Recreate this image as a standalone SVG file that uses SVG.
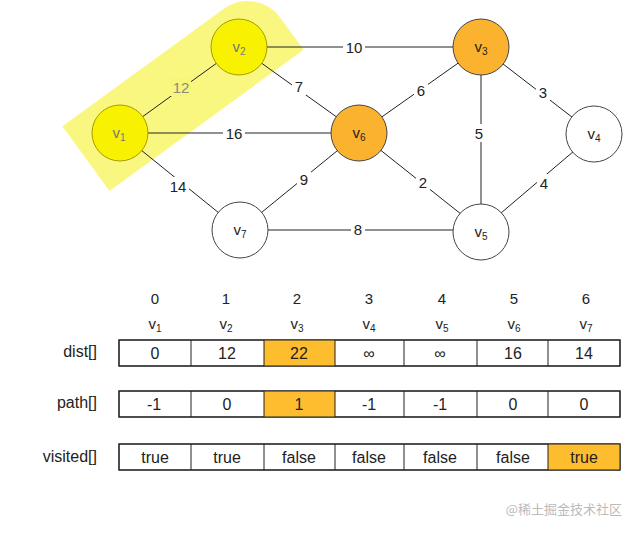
<svg xmlns="http://www.w3.org/2000/svg" width="639" height="533" viewBox="0 0 639 533">
<style>
text{font-family:"Liberation Sans",Arial,sans-serif;fill:#222;text-anchor:middle}
.e{stroke:#222;stroke-width:1;fill:none}
.w{font-size:15px}
.lbl{font-size:15px}
.c{fill:#fff;stroke:#222;stroke-width:1.2}
.h{fill:#fdbd2f}
.t{font-size:16px}
</style>
<rect x="0" y="0" width="639" height="533" fill="#fff"/>
<g id="highlight"><path d="M0 0H200a40 40 0 0 1 40 40v40H0Z" fill="#f6f34a" opacity="0.7" transform="rotate(-36 183 88) translate(63 48)"/></g>
<g id="connectors">
<line class="e" x1="120" y1="133" x2="239" y2="47"/>
<line class="e" x1="239" y1="47" x2="481" y2="47"/>
<line class="e" x1="239" y1="47" x2="359" y2="133"/>
<line class="e" x1="120" y1="133" x2="359" y2="133"/>
<line class="e" x1="120" y1="133" x2="240" y2="230"/>
<line class="e" x1="240" y1="230" x2="359" y2="133"/>
<line class="e" x1="240" y1="230" x2="481" y2="230"/>
<line class="e" x1="359" y1="133" x2="481" y2="47"/>
<line class="e" x1="359" y1="133" x2="481" y2="230"/>
<line class="e" x1="481" y1="47" x2="481" y2="230"/>
<line class="e" x1="481" y1="47" x2="594" y2="134"/>
<line class="e" x1="594" y1="134" x2="481" y2="230"/>
<g class="w">
<rect x="171" y="78" width="20" height="18" fill="#f8f578"/><text x="181" y="93" style="fill:#888">12</text>
<rect x="343" y="38" width="22" height="18" fill="#fff"/><text x="354" y="53">10</text>
<rect x="292" y="77" width="14" height="18" fill="#fff"/><text x="299" y="92">7</text>
<rect x="223" y="124" width="22" height="18" fill="#fff"/><text x="234" y="139">16</text>
<rect x="167" y="177" width="22" height="18" fill="#fff"/><text x="178" y="192">14</text>
<rect x="297" y="170" width="14" height="18" fill="#fff"/><text x="304" y="185">9</text>
<rect x="351" y="220" width="14" height="18" fill="#fff"/><text x="358" y="235">8</text>
<rect x="414" y="81" width="14" height="18" fill="#fff"/><text x="421" y="96">6</text>
<rect x="416" y="173" width="14" height="18" fill="#fff"/><text x="423" y="188">2</text>
<rect x="474" y="124" width="14" height="18" fill="#fff"/><text x="479" y="139">5</text>
<rect x="536" y="83" width="14" height="18" fill="#fff"/><text x="543" y="98">3</text>
<rect x="537" y="174" width="14" height="18" fill="#fff"/><text x="544" y="189">4</text>
</g>
</g>
<g id="v1"><circle cx="120" cy="133" r="28" fill="#f8f200" stroke="#a59c00"/><text class="lbl" x="119" y="138" style="fill:#777">v<tspan font-size="10" dy="3">1</tspan></text></g>
<g id="v2"><circle cx="239" cy="47" r="28" fill="#f8f200" stroke="#a59c00"/><text class="lbl" x="239" y="52" style="fill:#777">v<tspan font-size="10" dy="3">2</tspan></text></g>
<g id="v3"><circle cx="481" cy="47" r="28" fill="#fbb22e" stroke="#444"/><text class="lbl" x="481" y="52">v<tspan font-size="10" dy="3">3</tspan></text></g>
<g id="v4"><circle cx="594" cy="134" r="28" fill="#fff" stroke="#444"/><text class="lbl" x="594" y="139">v<tspan font-size="10" dy="3">4</tspan></text></g>
<g id="v5"><circle cx="481" cy="232" r="28" fill="#fff" stroke="#444"/><text class="lbl" x="481" y="237">v<tspan font-size="10" dy="3">5</tspan></text></g>
<g id="v6"><circle cx="359" cy="133" r="28" fill="#fbb22e" stroke="#444"/><text class="lbl" x="359" y="138">v<tspan font-size="10" dy="3">6</tspan></text></g>
<g id="v7"><circle cx="240" cy="230" r="28" fill="#fff" stroke="#444"/><text class="lbl" x="240" y="235">v<tspan font-size="10" dy="3">7</tspan></text></g>
<g id="table" class="t">
<g font-size="15">
<text x="155" y="304">0</text><text x="226" y="304">1</text><text x="297" y="304">2</text><text x="369" y="304">3</text><text x="442" y="304">4</text><text x="514" y="304">5</text><text x="586" y="304">6</text>
<text x="155" y="329">v<tspan font-size="10" dy="3">1</tspan></text><text x="226" y="329">v<tspan font-size="10" dy="3">2</tspan></text><text x="297" y="329">v<tspan font-size="10" dy="3">3</tspan></text><text x="369" y="329">v<tspan font-size="10" dy="3">4</tspan></text><text x="442" y="329">v<tspan font-size="10" dy="3">5</tspan></text><text x="514" y="329">v<tspan font-size="10" dy="3">6</tspan></text><text x="586" y="329">v<tspan font-size="10" dy="3">7</tspan></text>
</g>
<g font-size="16" style="text-anchor:end">
<text x="97" y="357" style="text-anchor:end">dist[]</text>
<text x="97" y="408" style="text-anchor:end">path[]</text>
<text x="97" y="462" style="text-anchor:end">visited[]</text>
</g>
<g>
<rect class="c" x="119" y="340" width="501" height="26"/>
<rect class="h" x="264" y="340" width="71" height="26"/>
<rect class="c" x="119" y="391" width="501" height="26"/>
<rect class="h" x="264" y="391" width="71" height="26"/>
<rect class="c" x="119" y="444" width="501" height="26"/>
<rect class="h" x="548" y="444" width="72" height="26"/>
<path class="e" d="M191 340V366M264 340V366M335 340V366M404 340V366M477 340V366M548 340V366M191 391V417M264 391V417M335 391V417M404 391V417M477 391V417M548 391V417M191 444V470M264 444V470M335 444V470M404 444V470M477 444V470M548 444V470"/>
<rect x="119" y="340" width="501" height="26" fill="none" stroke="#222"/>
<rect x="119" y="391" width="501" height="26" fill="none" stroke="#222"/>
<rect x="119" y="444" width="501" height="26" fill="none" stroke="#222"/>
</g>
<text x="155" y="359">0</text><text x="227" y="359">12</text><text x="299" y="359">22</text><text x="369" y="359">∞</text><text x="440" y="359">∞</text><text x="513" y="359">16</text><text x="584" y="359">14</text>
<text x="154" y="410">-1</text><text x="227" y="410">0</text><text x="299" y="410">1</text><text x="369" y="410">-1</text><text x="440" y="410">-1</text><text x="513" y="410">0</text><text x="584" y="410">0</text>
<text x="155" y="463">true</text><text x="227" y="463">true</text><text x="299" y="463">false</text><text x="369" y="463">false</text><text x="440" y="463">false</text><text x="513" y="463">false</text><text x="584" y="463">true</text>
</g>
<text x="622" y="514" style="text-anchor:end;fill:#bbb;font-family:'Noto Sans CJK SC',sans-serif" font-size="13">@稀土掘金技术社区</text>
</svg>
